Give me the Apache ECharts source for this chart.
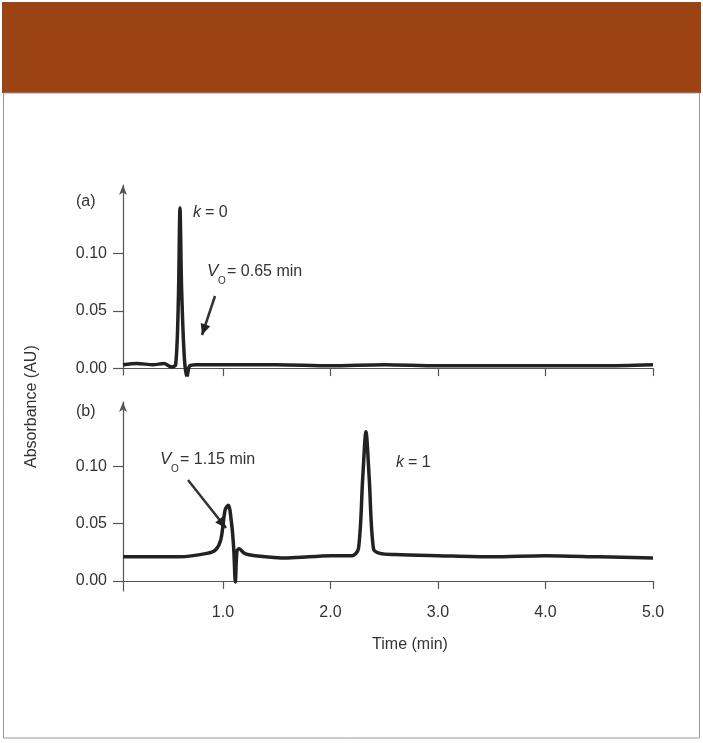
<!DOCTYPE html>
<html><head><meta charset="utf-8">
<script src="https://cdn.jsdelivr.net/npm/echarts@6/dist/echarts.min.js"></script>
<style>html,body{margin:0;padding:0;background:#fff}#c{width:703px;height:743px}</style>
</head><body><div id="c"></div>
<script>
const timeA = [0.07,0.2,0.35,0.45,0.52,0.56,0.585,0.60,0.615,0.64,0.665,0.69,0.75,1.0,1.5,2.0,2.5,3.0,3.5,4.0,4.5,5.0];
const absA  = [0.003,0.004,0.003,0.004,0.001,0.003,0.06,0.14,0.07,0.01,-0.008,0.002,0.003,0.003,0.003,0.002,0.003,0.002,0.002,0.002,0.002,0.003];
const timeB = [0.07,0.3,0.6,0.85,0.93,0.98,1.02,1.05,1.08,1.10,1.115,1.13,1.15,1.2,1.3,1.6,2.0,2.2,2.26,2.30,2.33,2.36,2.40,2.46,2.6,3.0,3.5,4.0,4.5,5.0];
const absB  = [0.021,0.021,0.021,0.024,0.027,0.036,0.062,0.066,0.05,0.028,-0.001,0.026,0.028,0.024,0.022,0.020,0.022,0.022,0.028,0.09,0.13,0.09,0.028,0.024,0.023,0.022,0.021,0.022,0.021,0.020];
const yTicks = [0.00,0.05,0.10];
const xTicks = [1,2,3,4,5];

const pairs=(xs,ys)=>xs.map((x,i)=>[x,ys[i]]);
const font='Liberation Sans, Arial, sans-serif';
const ax = (show)=>({type:'value',min:0.07,max:5.0,
  axisLine:{show:true,lineStyle:{color:'#555',width:1.2}},
  axisTick:{show:true,length:8,lineStyle:{color:'#555',width:1.2},customValues:xTicks},
  axisLabel:{show:show,color:'#333',fontSize:16,fontFamily:font,margin:14,customValues:xTicks,formatter:v=>v.toFixed(1)},
  splitLine:{show:false}});
const ay = (min,max)=>({type:'value',min:min,max:max,
  axisLine:{show:true,symbol:['none','arrow'],symbolSize:[6,10],lineStyle:{color:'#555',width:1.2}},
  axisTick:{show:true,length:10,lineStyle:{color:'#555',width:1.2},customValues:yTicks},
  axisLabel:{color:'#333',fontSize:16,fontFamily:font,margin:16,customValues:yTicks,formatter:v=>v.toFixed(2)},
  splitLine:{show:false}});
const ln={color:'#222',width:3.5};
const chart=echarts.init(document.getElementById('c'));
const T=(x,y,t,f)=>({type:'text',left:x,top:y,style:{text:t,font:(f||'16px ')+font,fill:'#333'}});
const arrow=(x1,y1,x2,y2)=>[{type:'line',shape:{x1,y1,x2,y2},style:{stroke:'#333',lineWidth:2.5}},
  {type:'polygon',shape:{points:(()=>{const a=Math.atan2(y2-y1,x2-x1),l=11,w=5;return [[x2,y2],[x2-l*Math.cos(a)+w*Math.sin(a),y2-l*Math.sin(a)-w*Math.cos(a)],[x2-l*Math.cos(a)-w*Math.sin(a),y2-l*Math.sin(a)+w*Math.cos(a)]];})()},style:{fill:'#222'}}];
chart.setOption({
  animation:false,
  grid:[{left:123,top:185,width:530,height:190},{left:123,top:402,width:530,height:189}],
  xAxis:[Object.assign(ax(false),{gridIndex:0}),Object.assign(ax(true),{gridIndex:1,name:'Time (min)',nameLocation:'middle',nameGap:46,nameTextStyle:{color:'#333',fontSize:16,fontFamily:font,padding:[0,0,0,44]}})],
  yAxis:[Object.assign(ay(-0.006,0.16),{gridIndex:0}),Object.assign(ay(-0.0088,0.156),{gridIndex:1})],
  series:[
    {type:'line',xAxisIndex:0,yAxisIndex:0,data:pairs(timeA,absA),symbol:'none',smooth:0.3,lineStyle:ln},
    {type:'line',xAxisIndex:1,yAxisIndex:1,data:pairs(timeB,absB),symbol:'none',smooth:0.3,lineStyle:ln}
  ],
  graphic:[
    {type:'rect',shape:{x:2,y:2,width:699,height:91},style:{fill:'#9c4314'}},
    {type:'rect',shape:{x:3.5,y:93,width:696,height:645},style:{fill:'none',stroke:'#999',lineWidth:1}},
    {type:'text',x:24,y:468,rotation:Math.PI/2,style:{text:'Absorbance (AU)',font:'16px '+font,fill:'#333'}},
    T(76,194,'(a)'),T(76,404,'(b)'),
    T(193,205,'k','italic 16px '),T(205,205,'= 0'),
    T(207,263,'V','italic 17px '),T(218,276,'O','10px '),T(227,264,'= 0.65 min'),
    T(160,451,'V','italic 17px '),T(171,464,'O','10px '),T(180,452,'= 1.15 min'),
    T(396,455,'k','italic 16px '),T(408,455,'= 1'),
    ...arrow(215,296,202,335),
    ...arrow(188,480,226,528)
  ]
});
</script></body></html>
